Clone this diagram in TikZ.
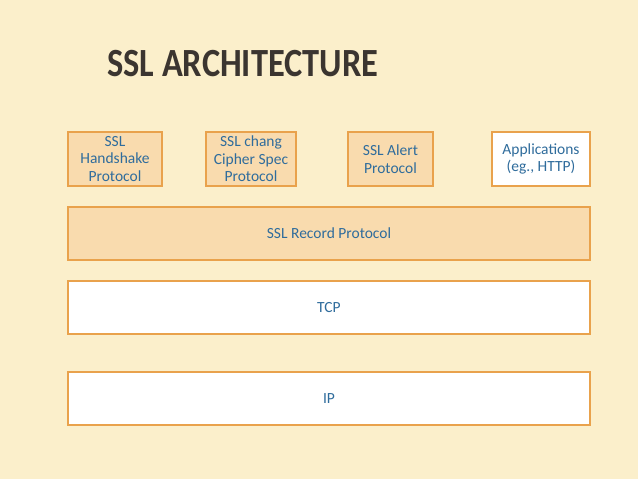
\documentclass[tikz,border=0pt]{standalone}
\usepackage{fontspec}
\setmainfont{Carlito}
\begin{document}
\begin{tikzpicture}[x=1pt,y=-1pt,
  lay/.style={draw=boxline,line width=1.2pt,fill=boxfill,text=txt,align=center,inner sep=0pt,font=\fontsize{15.5}{17.5}\selectfont},
]
\definecolor{bg}{HTML}{FBEFCB}
\definecolor{boxfill}{HTML}{F9DBAE}
\definecolor{boxline}{HTML}{E9A24C}
\definecolor{txt}{HTML}{2F6C9C}
\definecolor{ttl}{HTML}{3B3530}
\fill[bg] (0,0) rectangle (638,479);
\useasboundingbox (0,0) rectangle (638,479);
\node[anchor=base west,text=ttl,font=\fontsize{40}{40}\bfseries\selectfont,xscale=0.86,inner sep=0pt] (title) at (107,76) {SSL ARCHITECTURE};
\node[lay,minimum width=94pt,minimum height=54pt] (hs) at (115,159) {SSL\\Handshake\\Protocol};
\node[lay,minimum width=90pt,minimum height=54pt] (cc) at (251,159) {SSL chang\\Cipher Spec\\Protocol};
\node[lay,minimum width=85pt,minimum height=54pt] (al) at (390.5,159) {SSL Alert\\Protocol};
\node[lay,fill=white,minimum width=98pt,minimum height=54pt] (ap) at (541,159) {Applications\\(eg., HTTP)};
\node[lay,minimum width=522pt,minimum height=53pt] (rec) at (329,233.5) {SSL Record Protocol};
\node[lay,fill=white,minimum width=522pt,minimum height=53pt] (tcp) at (329,307.5) {TCP};
\node[lay,fill=white,minimum width=522pt,minimum height=53pt] (ip) at (329,398.5) {IP};
\end{tikzpicture}
\end{document}
